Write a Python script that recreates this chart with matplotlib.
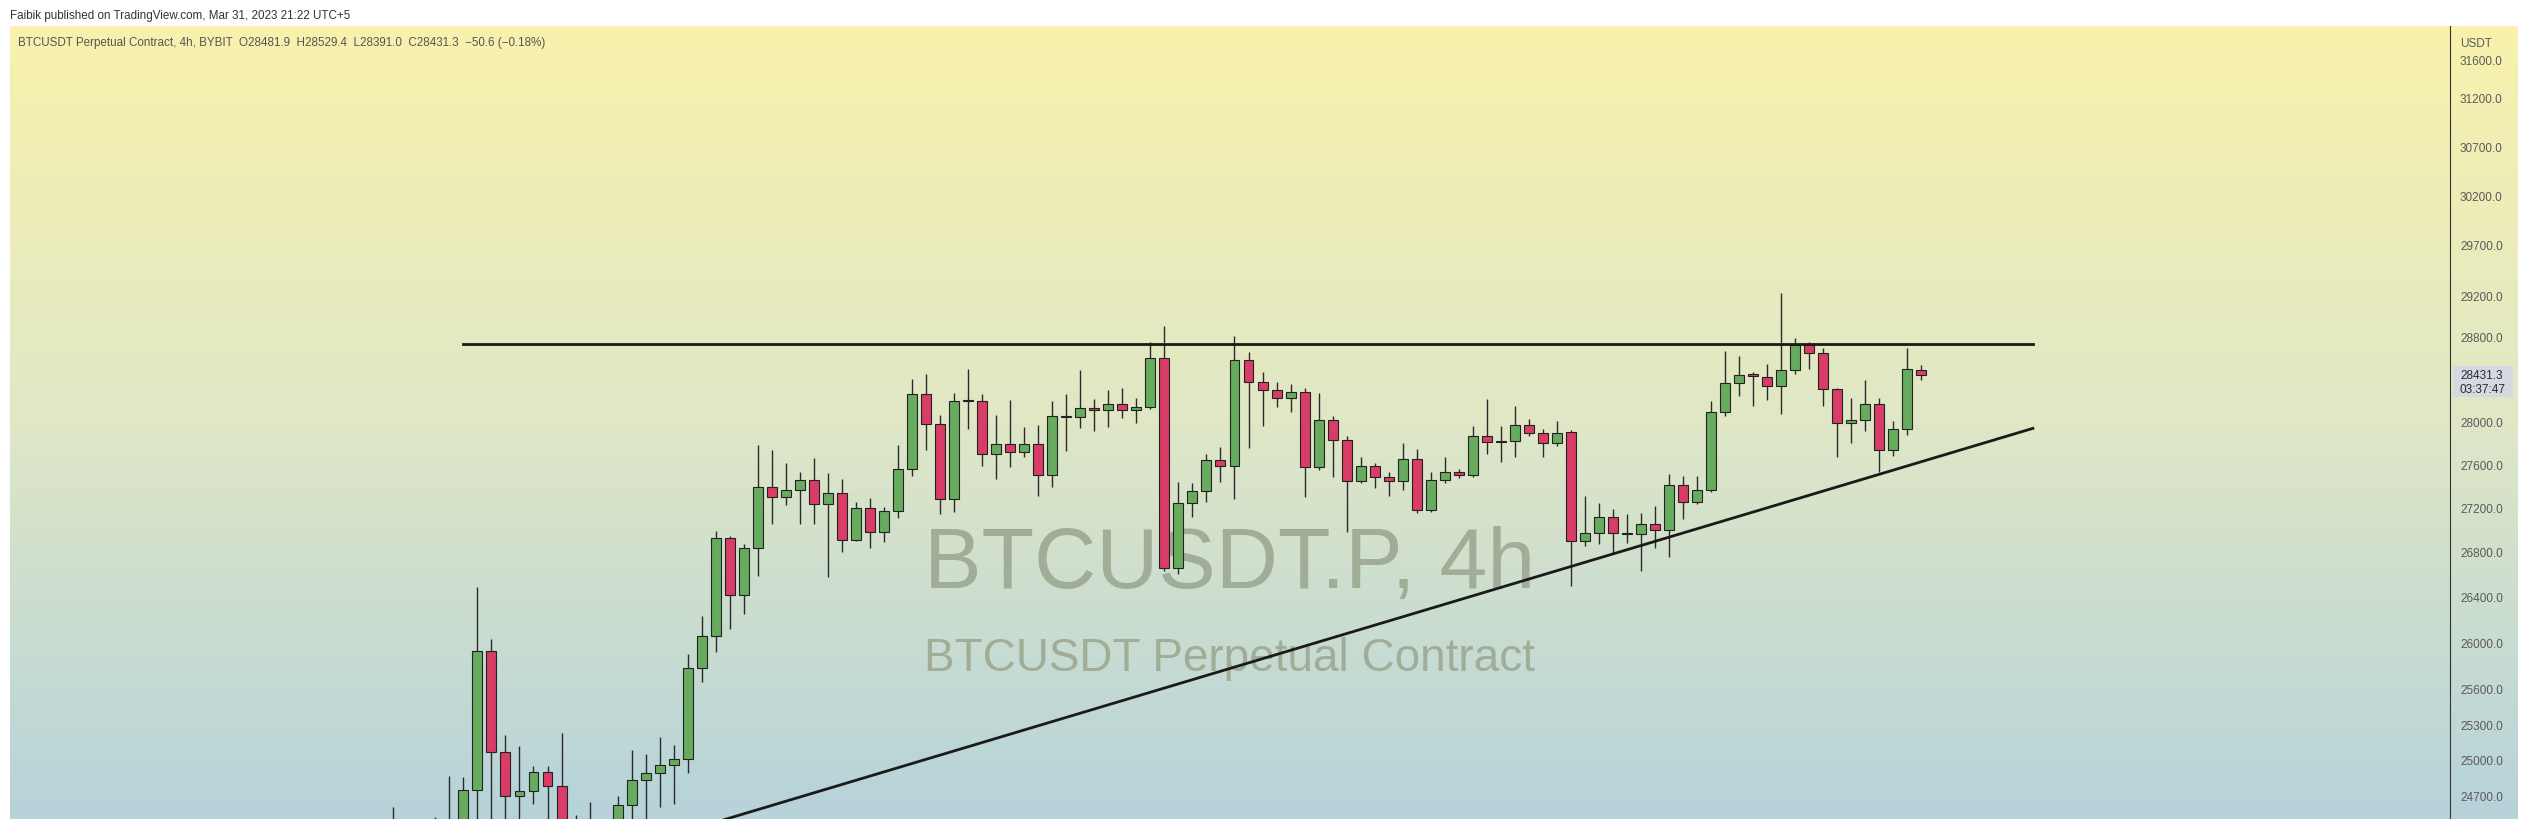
import numpy as np
import matplotlib
matplotlib.use("Agg")
import matplotlib.pyplot as plt
from matplotlib import font_manager
from matplotlib.colors import LinearSegmentedColormap
from matplotlib.patches import Rectangle

W, H = 2528, 820
DPI = 100

# 4h candles, BTCUSDT.P (Bybit)
opens = [24350, 24480, 24380, 24420, 24460, 24480, 24751, 25929, 25067, 24697,
         24743, 24901, 24784, 24480, 24420, 24480, 24420, 24626, 24833, 24889,
         24957, 25002, 25782, 26060, 26923, 26417, 26833, 27387, 27300, 27362,
         27454, 27234, 27334, 26911, 27194, 26983, 27167, 27552, 28258, 27969,
         27279, 28185, 28189, 27691, 27784, 27709, 27784, 27503, 28040, 28036,
         28123, 28105, 28158, 28105, 28130, 28594, 26654, 27243, 27350, 27635,
         27579, 28578, 28365, 28292, 28214, 28271, 27570, 28011, 27824, 27442,
         27585, 27479, 27448, 27647, 27182, 27454, 27524, 27503, 27864, 27802,
         27817, 27963, 27886, 27793, 27895, 26902, 26968, 27113, 26972, 26959,
         27049, 26998, 27405, 27252, 27362, 28083, 28356, 28443, 28420, 28334,
         28483, 28726, 28642, 28302, 27983, 28014, 28161, 27733, 27923, 28481.9]
highs = [24605, 24490, 24480, 24523, 24867, 24853, 26484, 26031, 25208, 25118,
         24951, 24951, 25223, 24542, 24652, 24500, 24702, 25082, 25048, 25191,
         25124, 25900, 26236, 26992, 26947, 26872, 27777, 27731, 27608, 27530,
         27656, 27518, 27463, 27255, 27288, 27209, 27780, 28400, 28446, 28058,
         28265, 28492, 28255, 28058, 28201, 27947, 27963, 28192, 28255, 28483,
         28208, 28295, 28309, 28214, 28754, 28910, 27438, 27426, 27694, 27756,
         28806, 28652, 28461, 28371, 28349, 28309, 28265, 28052, 27864, 27668,
         27607, 27530, 27796, 27740, 27530, 27663, 27555, 27957, 28208, 27957,
         28145, 28020, 27926, 28004, 27917, 27309, 27243, 27188, 27147, 27152,
         27212, 27509, 27494, 27488, 28192, 28665, 28616, 28466, 28540, 29228,
         28789, 28754, 28694, 28310, 28217, 28387, 28217, 28004, 28694, 28529.4]
lows = [24250, 24300, 24250, 24300, 24350, 24400, 24420, 24450, 24460, 24470,
        24632, 24470, 24380, 24300, 24330, 24350, 24380, 24480, 24490, 24610,
        24632, 24886, 25657, 25921, 26118, 26249, 26583, 27052, 27221, 27048,
        27048, 26574, 26800, 26900, 26833, 26887, 27106, 27488, 27733, 27143,
        27158, 27926, 27585, 27463, 27576, 27668, 27309, 27387, 27724, 27933,
        27905, 27947, 28026, 27980, 28114, 26633, 26604, 27113, 27249, 27438,
        27279, 27749, 27957, 28130, 28083, 27294, 27549, 27484, 26977, 27423,
        27377, 27304, 27364, 27152, 27158, 27426, 27472, 27484, 27694, 27616,
        27668, 27864, 27668, 27771, 26497, 26854, 26872, 26789, 26879, 26628,
        26833, 26751, 27097, 27234, 27347, 28045, 28239, 28145, 28201, 28067,
        28444, 28492, 28145, 27668, 27793, 27911, 27524, 27677, 27873, 28391.0]
closes = [24480, 24380, 24420, 24460, 24500, 24751, 25929, 25067, 24697, 24743,
          24901, 24784, 24450, 24420, 24480, 24460, 24626, 24833, 24889, 24957,
          25002, 25782, 26060, 26923, 26417, 26833, 27387, 27300, 27362, 27454,
          27234, 27334, 26911, 27194, 26983, 27167, 27552, 28258, 27969, 27279,
          28189, 28195, 27691, 27784, 27709, 27784, 27503, 28045, 28050, 28123,
          28105, 28158, 28105, 28130, 28594, 26654, 27243, 27350, 27635, 27579,
          28578, 28365, 28292, 28214, 28271, 27570, 28011, 27824, 27442, 27579,
          27479, 27448, 27647, 27182, 27454, 27524, 27503, 27864, 27802, 27817,
          27963, 27886, 27793, 27886, 26902, 26968, 27113, 26968, 26965, 27049,
          26998, 27405, 27252, 27364, 28083, 28356, 28439, 28424, 28334, 28483,
          28726, 28642, 28302, 27983, 28014, 28161, 27733, 27923, 28492, 28431.3]

price_ticks = [31600, 31200, 30700, 30200, 29700, 29200, 28800, 28000, 27600,
               27200, 26800, 26400, 26000, 25600, 25300, 25000, 24700]

# drawn trendlines (bar index, price)
resist_x = [4.97, 116.95]
resist_p = [28735, 28735]
support_x = [20.0, 116.95]
support_p = [24380, 27932]

last_price = "28431.3"
countdown = "03:37:47"
header = "Faibik published on TradingView.com, Mar 31, 2023 21:22 UTC+5"
legend = ("BTCUSDT Perpetual Contract, 4h, BYBIT  O28481.9  H28529.4  "
          "L28391.0  C28431.3  \u221250.6 (\u22120.18%)")


def fx(px):
    return px / W


def fy(py):
    return 1 - py / H


plt.rcParams['font.family'] = ['Liberation Sans', 'DejaVu Sans']
names = {f.name for f in font_manager.fontManager.ttflist}
narrow = 'Liberation Sans Narrow' in names

fig = plt.figure(figsize=(W / DPI, H / DPI), dpi=DPI, facecolor='white')

# gradient background (also behind the price scale)
ax_bg = fig.add_axes([fx(10), 0, fx(2518) - fx(10), fy(27)])
grad = np.linspace(0, 1, 256).reshape(-1, 1)
cmap = LinearSegmentedColormap.from_list('bg', ['#b6d3da', '#dfe7c6', '#f9f2ad'])
ax_bg.imshow(grad, aspect='auto', cmap=cmap, origin='lower', extent=[0, 1, 0, 1])
ax_bg.axis('off')

# watermark
wm_col = '#a1ad97'
if narrow:
    ax_bg.text(fx(1230), fy(588), "BTCUSDT.P, 4h", transform=fig.transFigure,
               ha='center', va='baseline', fontsize=75, color=wm_col,
               family='Liberation Sans Narrow')
else:
    ax_bg.text(fx(1230), fy(588), "BTCUSDT.P, 4h", transform=fig.transFigure,
               ha='center', va='baseline', fontsize=62, color=wm_col)
ax_bg.text(fx(1230), fy(671), "BTCUSDT Perpetual Contract", transform=fig.transFigure,
           ha='center', va='baseline', fontsize=33, color=wm_col)

ax = fig.add_axes([fx(10), 0, fx(2450) - fx(10), fy(27)])
ax.patch.set_alpha(0)

idx = np.arange(len(opens))
o = np.array(opens)
c = np.array(closes)
up = c >= o
green, red = '#67ab5f', '#d93c66'

ax.vlines(idx, lows, highs, color='#2a2a2a', linewidth=1.0, zorder=2)
ax.bar(idx, np.abs(c - o), bottom=np.minimum(o, c), width=0.71,
       color=np.where(up, green, red), edgecolor='#222222', linewidth=0.8, zorder=3)

ax.plot(resist_x, resist_p, color='#1a1a1a', linewidth=2.0, zorder=4)
ax.plot(support_x, support_p, color='#1a1a1a', linewidth=2.0, zorder=4)

ax.set_yscale('log')
ax.set_xlim(-27.34, 146.7)
ax.set_ylim(24509, 31958)
ax.set_xticks([])
ax.yaxis.tick_right()
ax.set_yticks(price_ticks)
ax.set_yticklabels([f"{t:.1f}" for t in price_ticks])
ax.yaxis.set_minor_locator(matplotlib.ticker.NullLocator())
ax.tick_params(axis='y', length=0, pad=7.2, labelsize=8.5, labelcolor='#5a5a5a')
for s in ['left', 'top', 'bottom']:
    ax.spines[s].set_visible(False)
ax.spines['right'].set_color('#333333')
ax.spines['right'].set_linewidth(0.8)

# price scale unit + last price tag
fig.text(fx(2460), fy(47), "USDT", fontsize=8.5, color='#5a5a5a', va='baseline')
fig.patches.append(Rectangle((fx(2453), fy(398)), fx(60), 31 / H,
                             transform=fig.transFigure, facecolor='#d6d9e2',
                             edgecolor='none', zorder=5))
fig.text(fx(2460), fy(379), last_price, fontsize=8.5, color='#2b2b2b',
         va='baseline', zorder=6)
fig.text(fx(2460), fy(393), countdown, fontsize=8.5, color='#2b2b2b',
         va='baseline', zorder=6)

fig.text(fx(10), fy(19.3), header, fontsize=8.4, color='#333333', va='baseline')
fig.text(fx(18), fy(46), legend, fontsize=8.4, color='#555555', va='baseline')

fig.savefig("out.png", dpi=DPI, facecolor='white')
